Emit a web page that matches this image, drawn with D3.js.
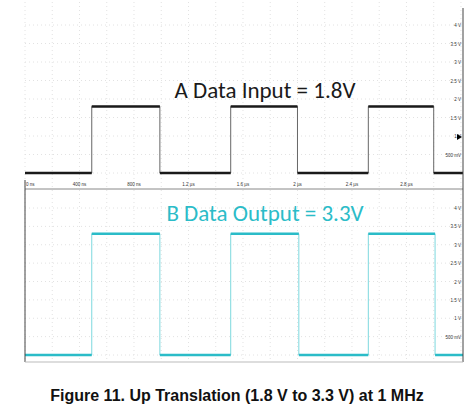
<!DOCTYPE html>
<html lang="en">
<head>
<meta charset="UTF-8">
<script src="https://d3js.org/d3.v7.min.js"></script>
<style>
  body { margin: 0; background: #fff; }
  svg { display: block; font-family: "Liberation Sans", Arial, sans-serif; }
</style>
</head>
<body>
<svg id="chart" width="474" height="411"></svg>
<script>
// time axis (ns)
var timeTicks = [0, 400, 800, 1200, 1600, 2000, 2400, 2800];
var timeLabels = ["0 ns", "400 ns", "800 ns", "1.2 µs", "1.6 µs", "2 µs", "2.4 µs", "2.8 µs"];
// voltage labels on the right
var voltTicks = [0.5, 1, 1.5, 2, 2.5, 3, 3.5, 4];
var voltLabels = ["500 mV", "1 V", "1.5 V", "2 V", "2.5 V", "3 V", "3.5 V", "4 V"];
// waveform edges (ns) and levels
var inputEdges = [490, 990, 1510, 2000, 2520, 3000];
var outputEdges = [490, 990, 1510, 2010, 2520, 3010];
var inputHigh = 1.8, outputHigh = 3.3;

var svg = d3.select("#chart");
var x = d3.scaleLinear().domain([0, 3215]).range([25, 463]);
var yA = d3.scaleLinear().domain([0, 4]).range([173, 25]);
var yB = d3.scaleLinear().domain([0, 4]).range([355, 208]);

function square(edges, high) {
  var pts = [[0, 0]], lvl = 0;
  edges.forEach(function(t) { pts.push([t, lvl]); lvl = lvl ? 0 : high; pts.push([t, lvl]); });
  pts.push([3215, lvl]);
  return pts;
}

function panel(y, top, bottom, edges, high, color, edgeColor, title, showTime) {
  var g = svg.append("g");
  // grid
  g.selectAll(".vg").data(d3.range(0, 3215, 200)).enter().append("line")
    .attr("x1", d => x(d)).attr("x2", d => x(d)).attr("y1", top).attr("y2", bottom)
    .attr("stroke", "#e2e2e2").attr("stroke-dasharray", "1,3");
  g.selectAll(".hg").data(d3.range(0, 4.5, 0.5)).enter().append("line")
    .attr("x1", 25).attr("x2", 463).attr("y1", d => y(d)).attr("y2", d => y(d))
    .attr("stroke", "#e2e2e2").attr("stroke-dasharray", "1,3");
  // right labels
  g.selectAll(".vl").data(voltTicks).enter().append("text")
    .attr("x", 461).attr("y", d => y(d) + 2).attr("text-anchor", "end")
    .attr("font-size", 4.5).attr("fill", "#333")
    .text((d, i) => voltLabels[i]);
  if (showTime) {
    g.selectAll(".tl").data(timeTicks).enter().append("text")
      .attr("x", (d, i) => x(d) + (i ? 0 : 1)).attr("y", 186)
      .attr("text-anchor", (d, i) => i ? "middle" : "start")
      .attr("font-size", 4.5).attr("fill", "#333")
      .text((d, i) => timeLabels[i]);
  }
  var pts = square(edges, high);
  // thin edges
  g.append("path").datum(pts)
    .attr("d", d3.line().x(d => x(d[0])).y(d => y(d[1])))
    .attr("fill", "none").attr("stroke", edgeColor).attr("stroke-width", 1);
  // thick levels
  for (var i = 0; i < pts.length; i += 2) {
    g.append("line")
      .attr("x1", x(pts[i][0])).attr("x2", x(pts[i + 1][0]))
      .attr("y1", y(pts[i][1])).attr("y2", y(pts[i + 1][1]))
      .attr("stroke", color).attr("stroke-width", 2.5);
  }
  g.append("text").attr("x", 265).attr("y", title[1])
    .attr("text-anchor", "middle").attr("font-size", 23).attr("fill", color)
    .style("font-family", "Calibri, Carlito, 'Open Sans', sans-serif")
    .text(title[0]);
}

panel(yA, 2, 188, inputEdges, inputHigh, "#1a1a1a", "#666", ["A Data Input = 1.8V", 98], true);
panel(yB, 190, 362, outputEdges, outputHigh, "#2bbcc8", "#7dd8de", ["B Data Output = 3.3V", 221], false);

// frame
svg.append("line").attr("x1", 25).attr("x2", 463).attr("y1", 189).attr("y2", 189).attr("stroke", "#888");
svg.append("line").attr("x1", 25).attr("x2", 25).attr("y1", 180).attr("y2", 362).attr("stroke", "#444");
svg.append("line").attr("x1", 463).attr("x2", 463).attr("y1", 8).attr("y2", 362).attr("stroke", "#444");
svg.append("line").attr("x1", 25).attr("x2", 463).attr("y1", 362).attr("y2", 362).attr("stroke", "#bbb");
svg.append("path").attr("d", "M462,137 l-5,-3 v6 z").attr("fill", "#000");

svg.append("text").attr("x", 237).attr("y", 401).attr("text-anchor", "middle")
  .attr("font-size", 16).attr("font-weight", "bold").attr("fill", "#111")
  .text("Figure 11.  Up Translation (1.8 V to 3.3 V) at 1 MHz");
</script>
</body>
</html>
